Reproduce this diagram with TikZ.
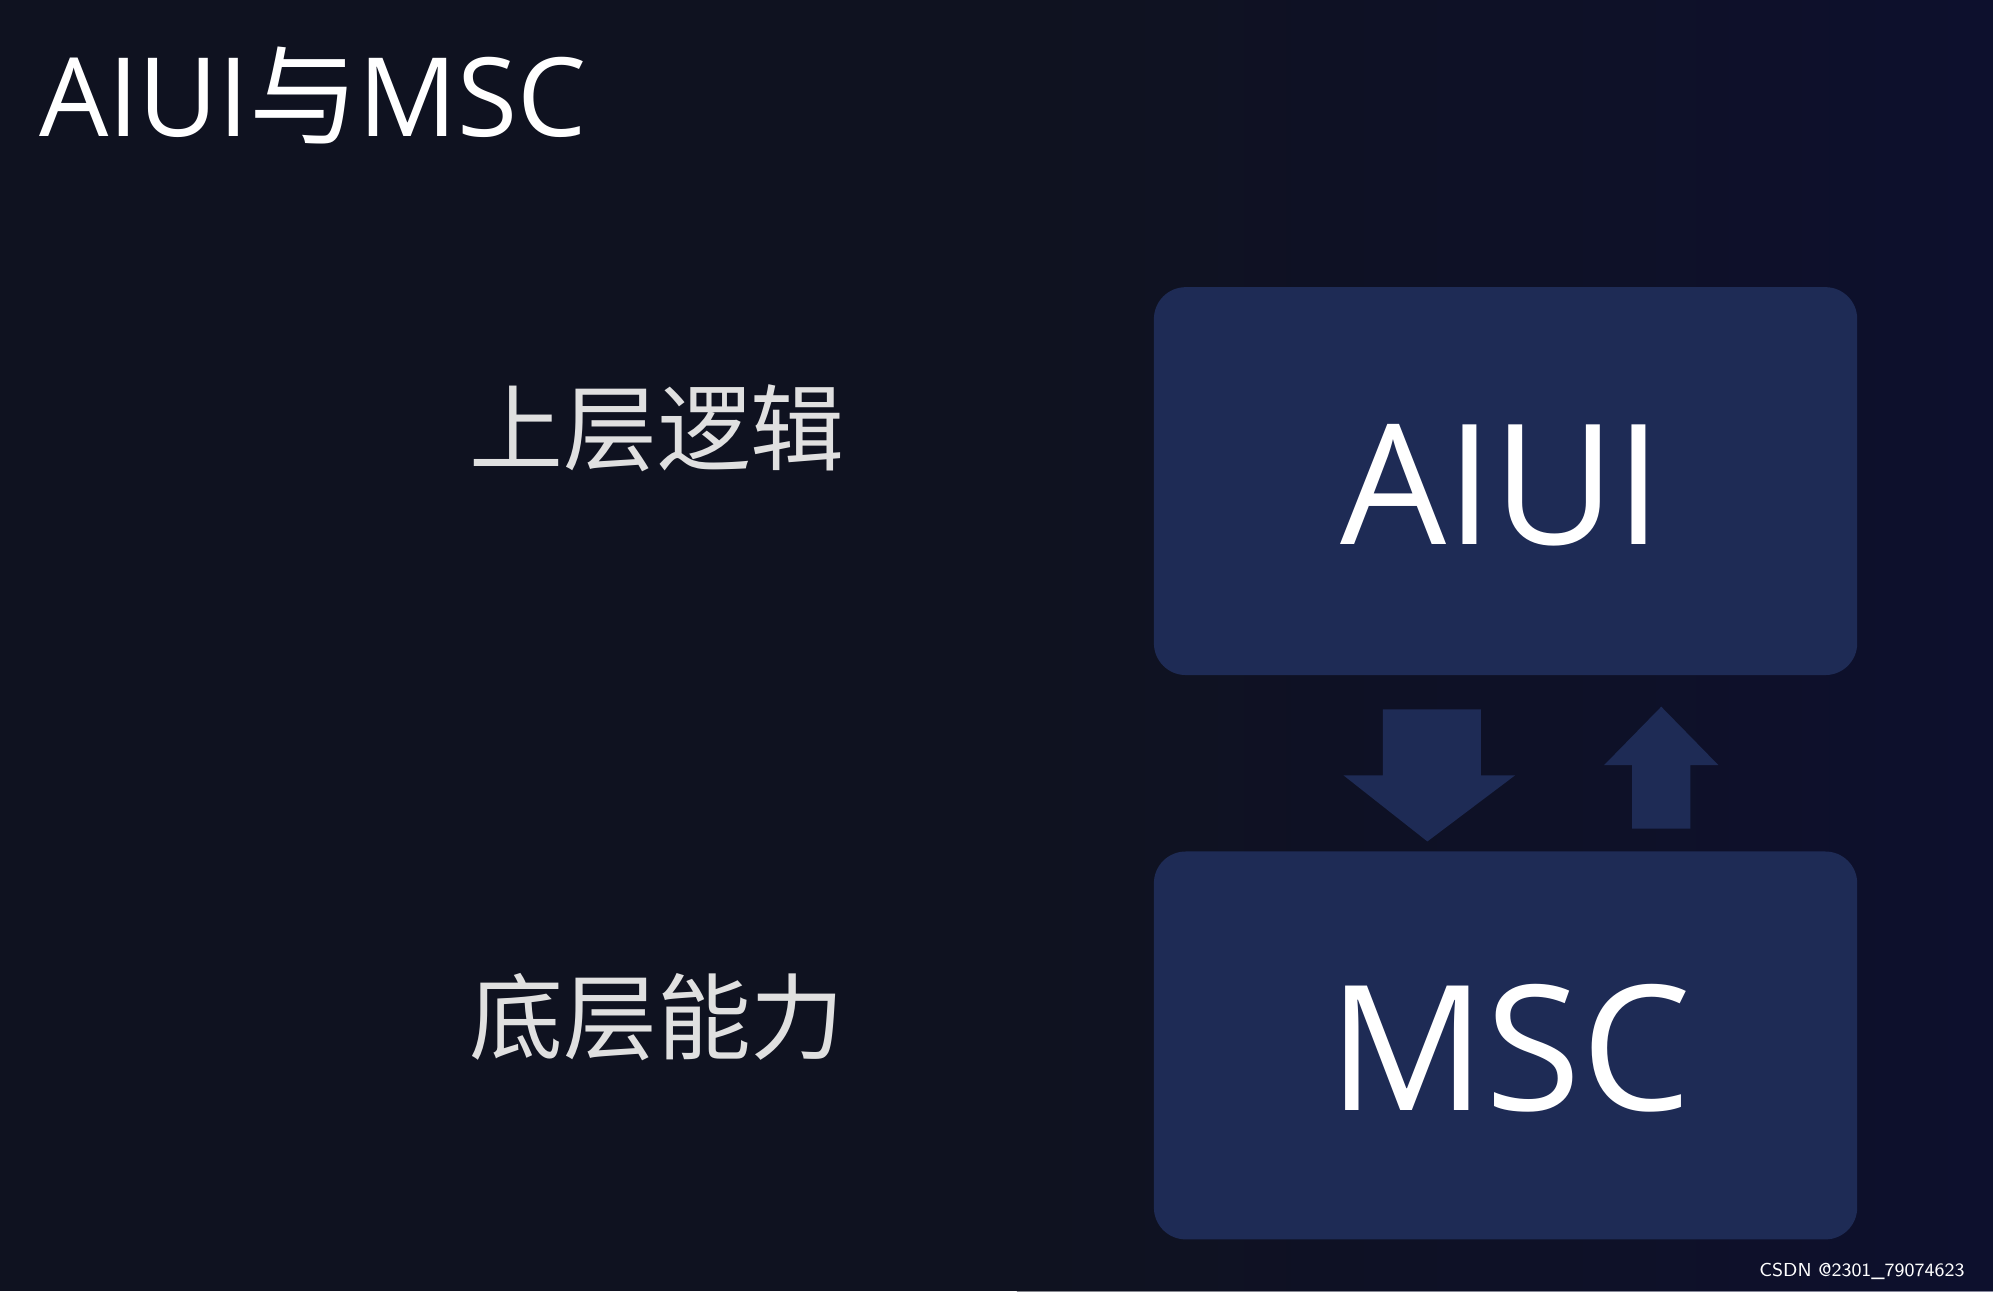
\documentclass[tikz,border=0pt]{standalone}
\usepackage{fontspec}
\setmainfont{Open Sans}
\newfontfamily\cjk{Noto Sans CJK SC}
\definecolor{bg}{HTML}{0F1220}
\definecolor{boxc}{HTML}{1E2B55}
\tikzset{blk/.style={fill=boxc,rounded corners=0.25cm,minimum width=5.53cm,minimum height=3.05cm,text=white},
lbl/.style={text=white!88!black,font=\cjk\fontsize{21}{21}\selectfont}}
\begin{document}
\begin{tikzpicture}[x=0.01cm,y=-0.01cm]
\fill[bg] (0,0) rectangle (1568,1016);
\shade[left color=bg,right color=bg!80!blue!60!bg,opacity=0.5] (800,0) rectangle (1568,1016);
\node[anchor=west,text=white,inner sep=0,font=\fontsize{24.5}{24.5}\selectfont] (title) at (30,75) {AIUI{\cjk 与}MSC};
\node[blk] (aiui) at (1184.5,378.5) {};
\node[text=white,font=\fontsize{37.5}{37.5}\selectfont] at (1181,382) {AIUI};
\node[blk] (msc) at (1184.5,822.5) {};
\node[text=white,font=\fontsize{39}{39}\selectfont] at (1188,825) {MSC};
\fill[boxc] (1088,558) -- (1165,558) -- (1165,610) -- (1192,610) -- (1123,662) -- (1057,610) -- (1088,610) -- cycle;
\fill[boxc] (1284,652) -- (1330,652) -- (1330,602) -- (1352,602) -- (1307,556) -- (1262,602) -- (1284,602) -- cycle;
\node[lbl] (up) at (517,337) {上层逻辑};
\node[lbl] (down) at (517,800) {底层能力};
\node[anchor=east,text=white,font=\fontsize{4.2}{4.2}\selectfont\sffamily] (wm) at (1558,1000) {CSDN @2301\_79074623};
\end{tikzpicture}
\end{document}
